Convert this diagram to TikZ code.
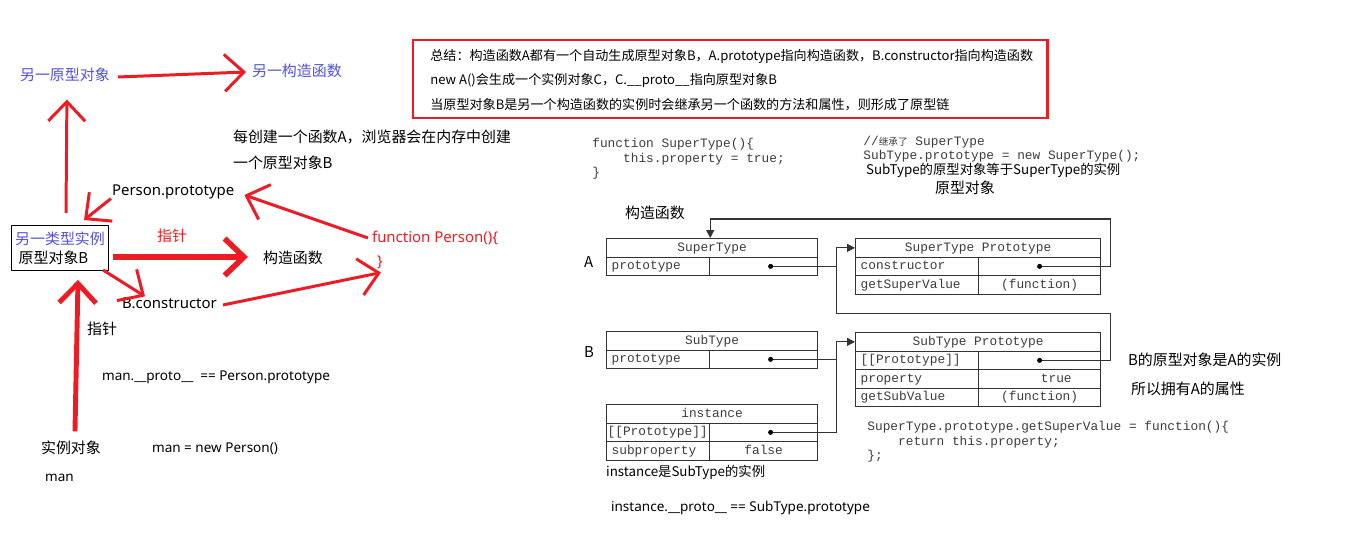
\documentclass[tikz,border=0pt]{standalone}
\usepackage{fontspec}
\setmainfont{Noto Sans CJK SC}
\newfontfamily\latinsans{Noto Sans}
\newfontfamily\codefont{Liberation Mono}
\usetikzlibrary{arrows.meta,calc,positioning}
\definecolor{paintred}{RGB}{237,28,36}
\definecolor{paintblue}{RGB}{80,80,225}
\definecolor{scangray}{RGB}{60,60,60}

\tikzset{
  lbl/.style={anchor=west, inner sep=1pt, text height=6.8pt, text depth=1.7pt, font=\fontsize{8.5pt}{10pt}\selectfont},
  latlbl/.style={lbl, font=\latinsans\fontsize{8.5pt}{10pt}\selectfont},
  smlbl/.style={lbl, font=\latinsans\fontsize{7.7pt}{9pt}\selectfont},
  codetxt/.style={anchor=west, align=left, inner sep=0pt, text=scangray, font=\codefont\fontsize{7.3pt}{8.3pt}\selectfont},
  cell/.style={draw=black!80, line width=0.7pt, anchor=north west, minimum height=0.37cm, inner sep=0pt, text height=5pt, text depth=1pt, text=scangray, font=\codefont\fontsize{7.3pt}{8pt}\selectfont},
  keycell/.style={cell, text width=#1, align=left, inner xsep=0.1cm},
  ptrdot/.style={circle, fill=black, inner sep=0pt, minimum size=0.1cm},
  link/.style={draw=black!80, line width=0.6pt},
  linktip/.style={-{Triangle[length=4.5pt,width=4.5pt]}},
  paintarrow/.style={draw=paintred, line width=1.7pt, -{Straight Barb[length=11pt,width=21pt]}},
  fatarrow/.style={paintarrow, line width=3.2pt}
}

\begin{document}
\begin{tikzpicture}[x=0.02cm,y=-0.02cm]
\useasboundingbox (0,0) rectangle (1352,548);

% left: prototype sketch
\node[lbl, text=paintblue] (otherproto) at (18,76) {另一原型对象};
\node[lbl, text=paintblue] (otherctor) at (250,72) {另一构造函数};
\node[anchor=west, align=left, inner sep=1pt, font=\fontsize{8.5pt}{14.8pt}\selectfont] (newfn) at (231,150) {每创建一个函数A，浏览器会在内存中创建\\一个原型对象B};
\node[latlbl] (pp) at (110,191) {Person.prototype};
\node[draw, line width=0.8pt, align=left, minimum width=1.92cm, minimum height=0.84cm, inner xsep=2pt, font=\fontsize{8.5pt}{10.8pt}\selectfont] (protoB) at (60,248) {\textcolor{paintblue}{另一类型实例}\\\hspace*{2pt}原型对象B};
\node[lbl, text=paintred] (ptr) at (155,237) {指针};
\node[lbl] (ctor) at (261,259) {构造函数};
\node[latlbl, text=paintred] (fn) at (370,238) {function Person()\{};
\node[latlbl, text=paintred] (fnend) at (375,262) {\}};
\node[latlbl] (bctor) at (120,304) {B.constructor};
\node[lbl] (ptr2) at (85,330) {指针};
\node[smlbl] (manproto) at (100,376) {man.\_\_proto\_\_\ \ == Person.prototype};
\node[lbl] (inst) at (39,449) {实例对象};
\node[smlbl] (mannew) at (150,448) {man = new Person()};
\node[smlbl] (man) at (43,477) {man};

\draw[paintarrow] ($(otherproto.east)+(6,1)$) -- ($(otherctor.west)+(-4,0)$);
\draw[paintarrow] ($(protoB.north)+(6,-12)$) -- ($(otherproto.south)+(2,14)$);
\draw[paintarrow] ($(pp.south west)+(1,-2)$) -- ($(protoB.north east)+(-25,-5)$);
\draw[fatarrow] ($(protoB.east)+(4,9)$) -- ($(ctor.west)+(-13,-2)$);
\draw[paintarrow] ($(fn.west)+(-2,0)$) -- ($(pp.east)+(8,4)$);
\draw[paintarrow] ($(protoB.south east)+(-6,-1)$) -- ($(bctor.north west)+(25,2)$);
\draw[paintarrow] ($(bctor.east)+(4,1)$) -- ($(fnend.south)+(1,1)$);
\draw[fatarrow, line width=2.8pt] ($(inst.north)+(4,-8)$) -- ($(protoB.south)+(18,9)$);

% summary
\draw[paintred, line width=1.7pt] (413,40) rectangle (1047,118);
\node[anchor=west, align=left, inner sep=0pt, font=\fontsize{7.45pt}{14pt}\selectfont] (summary) at (430,80) {总结：构造函数A都有一个自动生成原型对象B，A.prototype指向构造函数，B.constructor指向构造函数\\new A()会生成一个实例对象C，C.\_\_proto\_\_指向原型对象B\\当原型对象B是另一个构造函数的实例时会继承另一个函数的方法和属性，则形成了原型链};

% right: code
\node[codetxt] (supcode) at (592,159) {function SuperType()\{\\\hspace*{2.4em}this.property = true;\\\}};
\node[codetxt, font=\codefont\fontsize{7.3pt}{8pt}\selectfont] (inherit) at (863,149) {//{\normalfont\fontsize{5.5pt}{6pt}\selectfont 继承了} SuperType\\SubType.prototype = new SuperType();};
\node[codetxt] (getcode) at (867,442) {SuperType.prototype.getSuperValue = function()\{\\\hspace*{2.4em}return this.property;\\\};};

\node[lbl, font=\fontsize{7.6pt}{10pt}\selectfont] (subeq) at (864,170) {SubType的原型对象等于SuperType的实例};
\node[lbl] (protoobj) at (933,189) {原型对象};
\node[lbl] (ctorlbl) at (623,214) {构造函数};
\node[lbl] (labA) at (582,263) {A};
\node[lbl] (labB) at (582,353) {B};

% SuperType
\node[cell, minimum width=4.22cm] (supH) at (606,238) {SuperType};
\node[keycell=1.86cm] (supK) at (606,256.5) {prototype};
\node[cell, minimum width=2.16cm] (supV) at (709,256.5) {};
\node[ptrdot] (supDot) at ($(supV.center)+(7,0)$) {};

% SuperType Prototype
\node[cell, minimum width=4.9cm] (supPH) at (855,238) {SuperType Prototype};
\node[keycell=2.26cm] (supPK) at (855,256.5) {constructor};
\node[cell, minimum width=2.44cm] (supPV) at (978,256.5) {};
\node[keycell=2.26cm] (supPG) at (855,275) {getSuperValue};
\node[cell, minimum width=2.44cm] (supPF) at (978,275) {(function)};
\node[ptrdot] (supPDot) at (supPV.center) {};

% SubType
\node[cell, minimum width=4.22cm] (subH) at (606,331) {SubType};
\node[keycell=1.86cm] (subK) at (606,349.5) {prototype};
\node[cell, minimum width=2.16cm] (subV) at (709,349.5) {};
\node[ptrdot] (subDot) at ($(subV.center)+(7,0)$) {};

% SubType Prototype
\node[cell, minimum width=4.9cm] (subPH) at (855,332) {SubType Prototype};
\node[keycell=2.26cm] (subPK) at (855,350.5) {[[Prototype]]};
\node[cell, minimum width=2.44cm] (subPV) at (978,350.5) {};
\node[keycell=2.26cm] (subPP) at (855,369) {property};
\node[cell, minimum width=2.44cm] (subPT) at (978,369) {\hspace*{19pt}true};
\node[keycell=2.26cm] (subPG) at (855,387.5) {getSubValue};
\node[cell, minimum width=2.44cm] (subPF) at (978,387.5) {(function)};
\node[ptrdot] (subPDot) at (subPV.center) {};

% instance
\node[cell, minimum width=4.22cm] (instH) at (606,404) {instance};
\node[keycell=2.02cm, inner xsep=0.02cm] (instK) at (606,422.5) {[[Prototype]]};
\node[cell, minimum width=2.16cm] (instV) at (709,422.5) {};
\node[keycell=1.86cm] (instS) at (606,441) {subproperty};
\node[cell, minimum width=2.16cm] (instF) at (709,441) {false};
\node[ptrdot] (instDot) at ($(instV.center)+(7,0)$) {};

% pointers
\coordinate (jx) at ($(supH.east)!0.5!(supPH.west)$);
\coordinate (rx) at ($(supPH.east)+(9,0)$);
\coordinate (gap) at ($(supPG.south)!0.5!(subPH.north)$);
\coordinate (ctop) at ($(supH.north)+(0,-19)$);

\draw[link] (supDot) -- (supDot -| jx);
\draw[link, linktip] (subPDot) -- (subPDot -| rx) -- (rx |- gap) -- (jx |- gap) -- (jx |- supPH.west) -- (supPH.west);
\draw[link, linktip] (supPDot) -- (supPDot -| rx) -- (rx |- ctop) -- (supK.east |- ctop) -- (supK.east |- supH.north);
\draw[link] (subDot) -- (subDot -| jx);
\draw[link, linktip] (instDot) -- (instDot -| jx) -- (jx |- subPH.west) -- (subPH.west);

\node[lbl, font=\fontsize{7.6pt}{10pt}\selectfont] (instof) at (604,472) {instance是SubType的实例};
\node[smlbl] (instproto) at (609,507) {instance.\_\_proto\_\_ == SubType.prototype};
\node[lbl] (binst) at (1126,361) {B的原型对象是A的实例};
\node[lbl] (binherit) at (1129,390) {所以拥有A的属性};

\end{tikzpicture}
\end{document}
